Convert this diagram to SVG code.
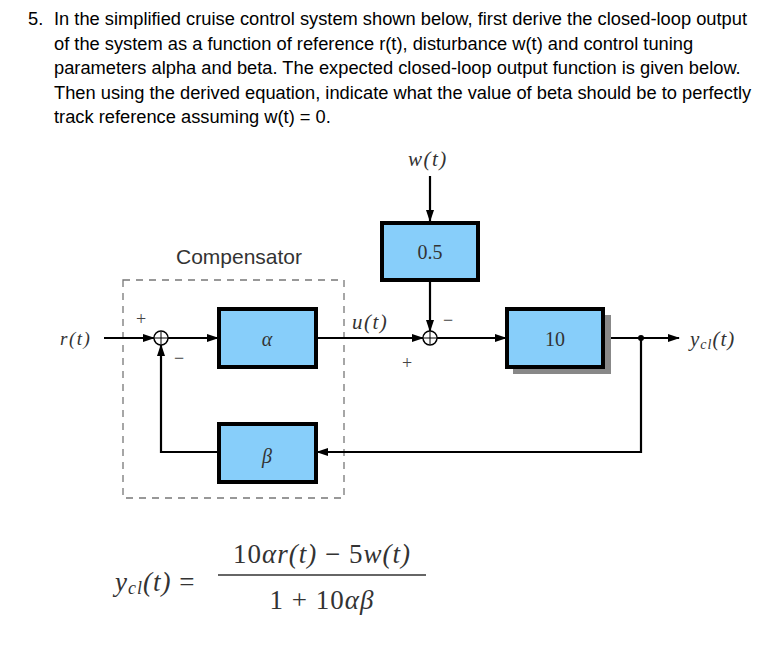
<svg xmlns="http://www.w3.org/2000/svg" width="778" height="647" viewBox="0 0 778 647">
<defs>
<marker id="ah" markerWidth="12" markerHeight="8" refX="11" refY="4" orient="auto" markerUnits="userSpaceOnUse"><path d="M0,0 L12,4 L0,8 Z" fill="#000"/></marker>
<style>
.q{font-family:"Liberation Sans",Arial,sans-serif;font-size:18.3px;fill:#000}
.m{font-family:"Liberation Serif","DejaVu Serif",serif;font-style:italic;fill:#333}
.n{font-family:"Liberation Serif","DejaVu Serif",serif;fill:#333}
.blk{fill:#87CEFA;stroke:#000;stroke-width:4}
.w{stroke:#000;stroke-width:2.2;fill:none}
.sum{fill:#fff;stroke:#000;stroke-width:1.5}
.sg{font-family:"Liberation Serif",serif;font-size:18px;fill:#444}
</style>
</defs>
<rect width="778" height="647" fill="#fff"/>
<g id="question" class="q">
<text x="28" y="25">5.</text>
<text x="54" y="25">In the simplified cruise control system shown below, first derive the closed-loop output</text>
<text x="54" y="50">of the system as a function of reference r(t), disturbance w(t) and control tuning</text>
<text x="54" y="74">parameters alpha and beta. The expected closed-loop output function is given below.</text>
<text x="54" y="99">Then using the derived equation, indicate what the value of beta should be to perfectly</text>
<text x="54" y="123">track reference assuming w(t) = 0.</text>
</g>
<g id="compensator">
<rect x="123" y="280" width="221" height="218" fill="none" stroke="#777" stroke-width="1.3" stroke-dasharray="7,6"/>
<text x="239" y="264" text-anchor="middle" font-family="Liberation Sans,Arial,sans-serif" font-size="21" fill="#333">Compensator</text>
</g>
<g id="connectors">
<line class="w" x1="104" y1="338" x2="154" y2="338" marker-end="url(#ah)"/>
<line class="w" x1="168" y1="338" x2="218" y2="338" marker-end="url(#ah)"/>
<line class="w" x1="317" y1="338" x2="423" y2="338" marker-end="url(#ah)"/>
<line class="w" x1="437" y1="338" x2="506" y2="338" marker-end="url(#ah)"/>
<line class="w" x1="604" y1="338" x2="679" y2="338" marker-end="url(#ah)"/>
<polyline class="w" points="641,338 641,452 317,452" marker-end="url(#ah)"/>
<polyline class="w" points="218,452 161,452 161,345" marker-end="url(#ah)"/>
<line class="w" x1="430" y1="176" x2="430" y2="221" marker-end="url(#ah)"/>
<line class="w" x1="430" y1="281" x2="430" y2="331" marker-end="url(#ah)"/>
<circle cx="641" cy="338" r="3" fill="#000"/>
</g>
<g id="sum1"><circle class="sum" cx="161" cy="338" r="7"/><path d="M161,332 V344 M155,338 H167" stroke="#000" stroke-width="1"/>
<text class="sg" x="136" y="325">+</text><text class="sg" x="174" y="364">−</text></g>
<g id="sum2"><circle class="sum" cx="430" cy="338" r="7"/><path d="M430,332 V344 M424,338 H436" stroke="#000" stroke-width="1"/>
<text class="sg" x="443" y="326">−</text><text class="sg" x="402" y="369">+</text></g>
<g id="alpha"><rect class="blk" x="219" y="309" width="97" height="58"/><text class="m" x="267" y="346" font-size="20" text-anchor="middle">α</text></g>
<g id="beta"><rect class="blk" x="219" y="424" width="97" height="58"/><text class="m" x="267" y="463" font-size="20" text-anchor="middle">β</text></g>
<g id="gain05"><rect class="blk" x="382" y="223" width="96" height="57"/><text class="n" x="430" y="259" font-size="20" text-anchor="middle">0.5</text></g>
<g id="plant"><rect x="513" y="315" width="98" height="59" fill="#888"/><rect class="blk" x="507" y="309" width="96" height="58"/><text class="n" x="555" y="346" font-size="20" text-anchor="middle">10</text></g>
<g id="labels">
<text class="m" x="60" y="345" font-size="19" letter-spacing="1.5">r(t)</text>
<text class="m" x="352" y="329" font-size="21" letter-spacing="1.5">u(t)</text>
<text class="m" x="408" y="166" font-size="21" letter-spacing="1.5">w(t)</text>
<text class="m" x="690" y="346" font-size="21" letter-spacing="1">y<tspan font-size="14" dy="3">cl</tspan><tspan dy="-3">(t)</tspan></text>
</g>
<g id="equation">
<text class="m" x="115" y="591" font-size="27" letter-spacing="1">y<tspan font-size="18" dy="3">cl</tspan><tspan dy="-3">(t) </tspan><tspan font-style="normal">=</tspan></text>
<text class="m" x="322" y="563" font-size="27" text-anchor="middle" letter-spacing="1"><tspan font-style="normal">10</tspan>αr(t) <tspan font-style="normal">− 5</tspan>w(t)</text>
<line x1="218" y1="575" x2="426" y2="575" stroke="#333" stroke-width="1.5"/>
<text class="m" x="322" y="609" font-size="27" text-anchor="middle" letter-spacing="1"><tspan font-style="normal">1 + 10</tspan>αβ</text>
</g>
</svg>
